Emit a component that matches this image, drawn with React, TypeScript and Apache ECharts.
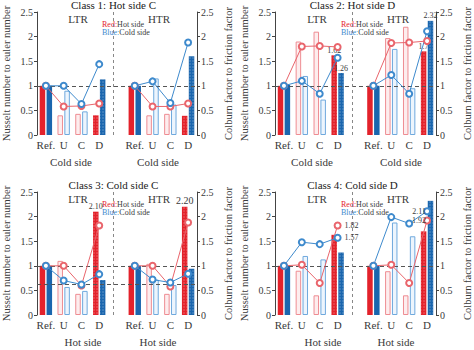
import React, { useEffect, useRef } from "react";
import * as echarts from "echarts";

// ---------- data ----------
const categories = ["Ref.", "U", "C", "D"];
const groupNames = ["LTR", "HTR"];
const classTitles = [
  "Class 1: Hot side C",
  "Class 2: Hot side D",
  "Class 3: Cold side C",
  "Class 4: Cold side D",
];
const sideLabels = ["Cold side", "Cold side", "Hot side", "Hot side"];
const leftAxisName = "Nusselt number to euler number";
const rightAxisName = "Colburn factor to friction factor";
const legendHot = ["Red:", "Hot side"];
const legendCold = ["Blue:", "Cold side"];

// order: LTR Ref, U, C, D, then HTR Ref, U, C, D
const c1HotBar = [1.0, 0.4, 0.43, 0.4, 1.0, 0.4, 0.43, 0.39];
const c1ColdBar = [1.0, 0.9, 0.48, 1.13, 1.0, 1.15, 0.62, 1.6];
const c1HotLine = [1.0, 0.58, 0.59, 0.64, 1.0, 0.58, 0.58, 0.64];
const c1ColdLine = [1.0, 1.0, 0.63, 1.44, 1.0, 1.09, 0.65, 1.88];

const c2HotBar = [1.0, 1.9, 2.1, 1.62, 1.0, 1.97, 2.2, 1.7];
const c2ColdBar = [1.02, 1.2, 0.72, 1.26, 1.0, 1.75, 0.95, 2.32];
const c2HotLine = [1.0, 1.8, 1.81, 1.79, 1.0, 1.87, 1.88, 1.91];
const c2ColdLine = [1.0, 1.1, 0.84, 1.57, 1.0, 1.22, 0.84, 2.11];

const c3HotBar = [1.0, 1.1, 0.43, 2.1, 1.0, 1.04, 0.43, 2.2];
const c3ColdBar = [1.0, 0.57, 0.49, 0.71, 1.0, 0.72, 0.61, 0.94];
const c3HotLine = [1.0, 1.0, 0.6, 1.82, 1.0, 1.0, 0.58, 1.88];
const c3ColdLine = [1.0, 0.7, 0.62, 0.83, 1.0, 0.72, 0.66, 0.84];

const c4HotBar = [1.0, 0.9, 0.4, 1.63, 1.0, 0.89, 0.4, 1.7];
const c4ColdBar = [1.0, 1.2, 1.13, 1.27, 1.0, 1.88, 1.6, 2.32];
const c4HotLine = [1.0, 1.02, 0.65, 1.82, 1.0, 1.02, 0.65, 1.92];
const c4ColdLine = [1.0, 1.48, 1.44, 1.57, 1.0, 1.99, 1.86, 2.11];

// value annotations
const c2HotBarNotes = ["", "", "", "1.62", "", "", "", "1.7"];
const c2ColdBarNotes = ["", "", "", "1.26", "", "", "", "2.32"];
const c3HotBarNotes = ["", "", "", "2.10", "", "", "", "2.20"];
const c4HotLineNotes = ["", "", "", "1.82", "", "", "", "1.92"];
const c4ColdLineNotes = ["", "", "", "1.57", "", "", "", "2.11"];
const empty8 = ["", "", "", "", "", "", "", ""];

const refLevels = [[1], [1], [1, 0.63], [1]];

const panelsData = [
  { hotBar: c1HotBar, coldBar: c1ColdBar, hotLine: c1HotLine, coldLine: c1ColdLine, hbN: empty8, cbN: empty8, hlN: empty8, clN: empty8 },
  { hotBar: c2HotBar, coldBar: c2ColdBar, hotLine: c2HotLine, coldLine: c2ColdLine, hbN: c2HotBarNotes, cbN: c2ColdBarNotes, hlN: empty8, clN: empty8 },
  { hotBar: c3HotBar, coldBar: c3ColdBar, hotLine: c3HotLine, coldLine: c3ColdLine, hbN: c3HotBarNotes, cbN: empty8, hlN: empty8, clN: empty8 },
  { hotBar: c4HotBar, coldBar: c4ColdBar, hotLine: c4HotLine, coldLine: c4ColdLine, hbN: empty8, cbN: empty8, hlN: c4HotLineNotes, clN: c4ColdLineNotes },
];

// ---------- layout / style ----------
const FONT = "Liberation Serif";
const TXT = "#3a3a3a";
const RED = "#e3222b";
const BLUE = "#1b66ae";
const RED_LINE = "#e9656c";
const BLUE_LINE = "#3e8acd";
const RED_HOLLOW = "#ee8c92";
const BLUE_HOLLOW = "#6fa9dd";
const GRID_W = 161;
const GRID_H = 123;
const panelPos = [
  [36, 12],
  [275, 12],
  [36, 192],
  [275, 192],
];
const sideLabelX = [
  [35, 122],
  [37, 126],
  [47, 122],
  [48, 121],
];

const slotKeys = ["L0", "L1", "L2", "L3", "gap", "H0", "H1", "H2", "H3"];

function toSlots<T>(arr: T[]): (T | string)[] {
  return [arr[0], arr[1], arr[2], arr[3], "-", arr[4], arr[5], arr[6], arr[7]];
}

function barItems(values: number[], notes: string[], solid: string, hollowBorder: string, hollowFill: string) {
  const items: any[] = [];
  values.forEach((v, k) => {
    const kind = k % 4;
    const hollow = kind === 1 || kind === 2;
    const item: any = {
      value: v,
      itemStyle: hollow
        ? { color: hollowFill, borderColor: hollowBorder, borderWidth: 1 }
        : kind === 3
        ? {
            color: solid,
            decal: {
              symbol: "circle",
              symbolSize: 0.7,
              color: "rgba(255,255,255,0.35)",
              dashArrayX: [2, 1],
              dashArrayY: [2, 1],
            },
          }
        : { color: solid },
    };
    if (notes[k]) {
      item.label = {
        show: true,
        position: "top",
        distance: 1,
        formatter: notes[k],
        fontSize: notes[k] === "2.20" ? 10 : 8,
        fontFamily: FONT,
        color: TXT,
      };
    }
    items.push(item);
  });
  return [items[0], items[1], items[2], items[3], "-", items[4], items[5], items[6], items[7]];
}

function lineItems(values: number[], notes: string[]) {
  const items: any[] = values.map((v, k) => {
    const item: any = { value: v };
    if (notes[k]) {
      item.label = k < 4
        ? { show: true, position: "right", distance: 3, formatter: notes[k], fontSize: 8, fontFamily: FONT, color: TXT }
        : { show: true, position: "left", distance: 0, offset: [3, 0], formatter: notes[k], fontSize: 8, fontFamily: FONT, color: TXT };
    }
    return item;
  });
  return toSlots(items);
}

function buildOption() {
  const grid: any[] = [];
  const xAxis: any[] = [];
  const yAxis: any[] = [];
  const series: any[] = [];
  const graphic: any[] = [];

  panelsData.forEach((p, i) => {
    const [L, T] = panelPos[i];
    grid.push({ left: L, top: T, width: GRID_W, height: GRID_H });
    xAxis.push({
      type: "category",
      gridIndex: i,
      data: slotKeys,
      axisLine: { show: false },
      axisTick: { show: false },
      axisLabel: {
        interval: 0,
        margin: 4,
        fontSize: 11,
        fontFamily: FONT,
        color: TXT,
        formatter: (val: string) => (val === "gap" ? "" : categories[Number(val.slice(1))]),
      },
    });
    const yCommon = {
      type: "value",
      gridIndex: i,
      min: 0,
      max: 2.5,
      interval: 0.5,
      splitLine: { show: false },
      axisLine: { show: true, lineStyle: { color: "#444", width: 1 } },
      axisTick: { show: true, length: 3, lineStyle: { color: "#444" } },
      axisLabel: { fontSize: 10, fontFamily: FONT, color: TXT, margin: 4 },
      nameLocation: "middle",
      nameRotate: 90,
      nameTextStyle: { fontSize: 10.5, fontFamily: FONT, color: TXT },
    };
    yAxis.push({ ...yCommon, position: "left", name: leftAxisName, nameGap: 25 });
    yAxis.push({ ...yCommon, position: "right", name: rightAxisName, nameGap: 26 });

    const markData: any[] = refLevels[i].map((lv) => ({ yAxis: lv }));
    markData.push({ xAxis: 4, lineStyle: { color: "#888", type: [3, 3], width: 1 } });

    series.push({
      type: "bar",
      xAxisIndex: i,
      yAxisIndex: 2 * i,
      barWidth: 5.5,
      barGap: "25%",
      data: barItems(p.hotBar, p.hbN, RED, RED_HOLLOW, "rgba(250,215,218,0.45)"),
      markLine: {
        silent: true,
        symbol: "none",
        label: { show: false },
        lineStyle: { color: "#555", type: [4, 3], width: 1 },
        data: markData,
      },
    });
    series.push({
      type: "bar",
      xAxisIndex: i,
      yAxisIndex: 2 * i,
      barWidth: 5.5,
      barGap: "25%",
      data: barItems(p.coldBar, p.cbN, BLUE, BLUE_HOLLOW, "rgba(215,232,250,0.45)"),
    });
    series.push({
      type: "line",
      xAxisIndex: i,
      yAxisIndex: 2 * i + 1,
      symbol: "emptyCircle",
      symbolSize: 6,
      lineStyle: { color: RED_LINE, width: 1 },
      itemStyle: { color: RED_LINE, borderWidth: 1 },
      data: lineItems(p.hotLine, p.hlN),
      z: 5,
    });
    series.push({
      type: "line",
      xAxisIndex: i,
      yAxisIndex: 2 * i + 1,
      symbol: "emptyCircle",
      symbolSize: 6,
      lineStyle: { color: BLUE_LINE, width: 1 },
      itemStyle: { color: BLUE_LINE, borderWidth: 1 },
      data: lineItems(p.coldLine, p.clN),
      z: 5,
    });

    // texts
    graphic.push({
      type: "text",
      x: L + GRID_W / 2 - 3,
      y: T - 7,
      style: { text: classTitles[i], fontSize: 11, fontFamily: FONT, fill: "#222", align: "center", verticalAlign: "middle" },
    });
    graphic.push({
      type: "text",
      x: L + 42,
      y: T + 7,
      style: { text: groupNames[0], fontSize: 11, fontFamily: FONT, fill: TXT, align: "center", verticalAlign: "middle" },
    });
    graphic.push({
      type: "text",
      x: L + 123,
      y: T + 7,
      style: { text: groupNames[1], fontSize: 11, fontFamily: FONT, fill: TXT, align: "center", verticalAlign: "middle" },
    });
    graphic.push({
      type: "text",
      x: L + 66,
      y: T + 12,
      style: {
        text: `{c|${legendHot[0]}}{k|${legendHot[1]}}`,
        verticalAlign: "middle",
        rich: {
          c: { fill: RED, fontSize: 8, fontFamily: FONT },
          k: { fill: TXT, fontSize: 8, fontFamily: FONT },
        },
      },
    });
    graphic.push({
      type: "text",
      x: L + 66,
      y: T + 20,
      style: {
        text: `{c|${legendCold[0]}}{k|${legendCold[1]}}`,
        verticalAlign: "middle",
        rich: {
          c: { fill: BLUE_LINE, fontSize: 8, fontFamily: FONT },
          k: { fill: TXT, fontSize: 8, fontFamily: FONT },
        },
      },
    });
    sideLabelX[i].forEach((dx) => {
      graphic.push({
        type: "text",
        x: L + dx,
        y: T + 150,
        style: { text: sideLabels[i], fontSize: 11, fontFamily: FONT, fill: TXT, align: "center", verticalAlign: "middle" },
      });
    });
  });

  return {
    animation: false,
    backgroundColor: "#fff",
    textStyle: { fontFamily: FONT },
    grid,
    xAxis,
    yAxis,
    series,
    graphic,
  };
}

export default function App() {
  const ref = useRef<HTMLDivElement>(null);
  useEffect(() => {
    const chart = echarts.init(ref.current as HTMLDivElement, null, { renderer: "svg" });
    chart.setOption(buildOption() as any);
    return () => chart.dispose();
  }, []);
  return (
    <div
      ref={ref}
      style={{ position: "fixed", left: 0, top: 0, width: 474, height: 350 }}
    />
  );
}
